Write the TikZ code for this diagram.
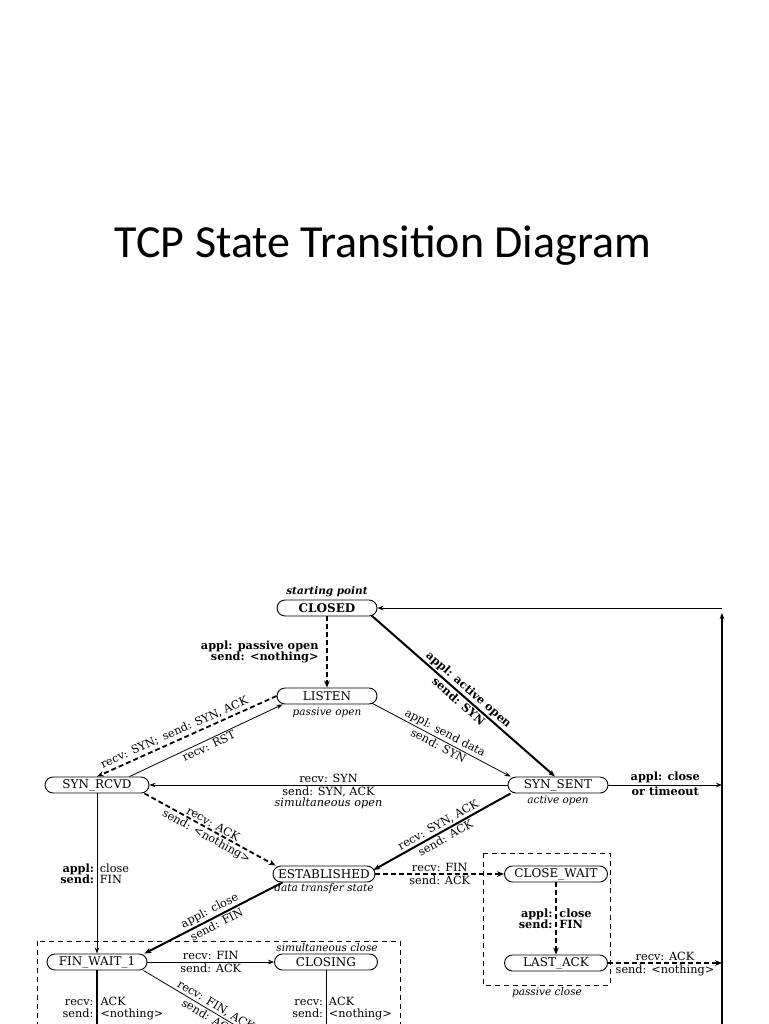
\documentclass[tikz,border=0pt]{standalone}
\usepackage{fontspec}
\setmainfont{DejaVu Serif}
\newfontfamily\titlefont{Carlito}
\usetikzlibrary{arrows.meta,calc}
\newcommand{\lblfont}{\fontsize{11.3}{11.3}\selectfont}
\begin{document}
\begin{tikzpicture}[x=1pt,y=-1pt,
  state/.style={draw, line width=0.9pt, fill=white, rounded corners=8pt, minimum width=100pt, minimum height=16pt, inner sep=1pt, font=\fontsize{12}{12}\selectfont},
  lbl/.style={font=\lblfont, inner sep=1.5pt},
  blbl/.style={font=\lblfont\bfseries, inner sep=1.5pt},
  ital/.style={font=\fontsize{10.5}{11}\selectfont\itshape, inner sep=0pt},
  tip/.style={-{Stealth[length=6pt,width=4.5pt]}},
  tline/.style={line width=0.8pt, tip},
  kline/.style={line width=2pt, -{Stealth[length=7pt,width=5.5pt]}},
  dline/.style={line width=1.8pt, dash pattern=on 5pt off 3pt, -{Stealth[length=7pt,width=5.5pt]}},
  boxd/.style={line width=0.9pt, dash pattern=on 5pt off 4pt}
]
\useasboundingbox (0,0) rectangle (768,1024);
\clip (0,0) rectangle (768,1024);
\fill[white] (0,0) rectangle (768,1024);

% title
\node[font=\titlefont\fontsize{46}{46}\selectfont, anchor=base, inner sep=0pt] (title) at (383,258) {TCP State Transition Diagram};

% dashed boxes
\draw[boxd] (37,941) rectangle (400,1050);
\draw[boxd] (483,853) rectangle (610,985);

% states
\node[state, font=\fontsize{12}{12}\selectfont\bfseries] (closed) at (327,608) {CLOSED};
\node[state] (listen) at (327,696) {LISTEN};
\node[state, minimum width=104pt] (synrcvd) at (97,785) {SYN\_RCVD};
\node[state] (synsent) at (558,785) {SYN\_SENT};
\node[state, minimum width=102pt] (established) at (324,874) {ESTABLISHED};
\node[state, minimum width=103pt] (closewait) at (556,874) {CLOSE\_WAIT};
\node[state, minimum width=103pt] (lastack) at (556,963) {LAST\_ACK};
\node[state] (finwait1) at (97,962) {FIN\_WAIT\_1};
\node[state, minimum width=103pt] (closing) at (326,962) {CLOSING};

% annotations
\node[ital, font=\fontsize{10.5}{11}\selectfont\itshape\bfseries] (startpt) at (327,592) {starting point};
\node[ital] (passopen) at (327,713) {passive open};
\node[ital] (actopen) at (558,801) {active open};
\node[ital] (dts) at (324,889) {data transfer state};
\node[ital] (passclose) at (547,993) {passive close};
\node[ital] (simclose) at (327,948) {simultaneous close};

% coordinates of free ends
\coordinate (rtop) at (722,608);
\coordinate (rbot) at (722,1050);
\coordinate (rss) at (722,785);
\coordinate (rla) at (722,963);
\coordinate (fwbot) at (97,1050);
\coordinate (clbot) at (326,1050);
\coordinate (fwdiag) at (290,1058);

% CLOSED -> LISTEN
\draw[dline] (closed) -- (listen)
  node[blbl, pos=0.5, left=6pt, align=right] {appl: passive open\\send: <nothing>};
% CLOSED -> SYN_SENT
\draw[kline] ($(closed.south east)+(-6,-1)$) -- ($(synsent.north)+(-3,0)$)
  node[blbl, sloped, pos=0.5, above] {appl: active open}
  node[blbl, sloped, pos=0.5, below] {send: SYN};
% LISTEN -> SYN_SENT
\draw[tline] ($(listen.south east)+(-5,-1)$) -- ($(synsent.north west)+(3,0)$)
  node[lbl, sloped, pos=0.5, above] {appl: send data}
  node[lbl, sloped, pos=0.5, below] {send: SYN};
% LISTEN -> SYN_RCVD
\draw[dline] (listen.west) -- (synrcvd.north)
  node[lbl, sloped, pos=0.55, above=1pt] {recv: SYN;\enspace send: SYN, ACK};
% SYN_RCVD -> LISTEN
\draw[tline] ($(synrcvd.north east)+(-20,0)$) -- ($(listen.south west)+(6,0)$)
  node[lbl, sloped, pos=0.5, below] {recv: RST};
% SYN_SENT -> SYN_RCVD
\draw[tline] (synsent.west) -- (synrcvd.east)
  node[lbl, pos=0.5, above] {recv: SYN}
  node[lbl, pos=0.5, below, align=center] {send: SYN, ACK\\\textit{simultaneous open}};
% SYN_RCVD -> ESTABLISHED
\draw[dline] ($(synrcvd.south east)+(-5,0)$) -- ($(established.north west)+(3,0)$)
  node[lbl, sloped, pos=0.5, above] {recv: ACK}
  node[lbl, sloped, pos=0.5, below] {send: <nothing>};
% SYN_SENT -> ESTABLISHED
\draw[kline] ($(synsent.south west)+(3,0)$) -- ($(established.east)+(-2,-4)$)
  node[lbl, sloped, pos=0.5, above] {recv: SYN, ACK}
  node[lbl, sloped, pos=0.5, below] {send: ACK};
% ESTABLISHED -> CLOSE_WAIT
\draw[dline] (established.east) -- (closewait.west)
  node[lbl, pos=0.5, above] {recv: FIN}
  node[lbl, pos=0.5, below] {send: ACK};
% CLOSE_WAIT -> LAST_ACK
\draw[dline] (closewait) -- (lastack)
  node[blbl, pos=0.5, left=1pt, align=right] {appl:\\send:}
  node[blbl, pos=0.5, right=1pt, align=left] {close\\FIN};
% LAST_ACK -> right line
\draw[dline] (lastack.east) -- (rla)
  node[lbl, pos=0.5, above] {recv: ACK}
  node[lbl, pos=0.5, below] {send: <nothing>};
% SYN_SENT -> right line
\draw[tline] (synsent.east) -- (rss)
  node[blbl, pos=0.5, above] {appl: close}
  node[blbl, pos=0.5, below] {or timeout};
% right line up to CLOSED
\draw[line width=1.3pt, tip] (rbot) -- ($(rtop)+(0,5)$);
\draw[tline] (rtop) -- (closed.east);
% SYN_RCVD -> FIN_WAIT_1
\draw[tline] (synrcvd.south) -- (finwait1.north)
  node[blbl, pos=0.5, left=1pt, align=right] {appl:\\send:}
  node[lbl, pos=0.5, right=1pt, align=left] {close\\FIN};
% ESTABLISHED -> FIN_WAIT_1
\draw[kline] ($(established.south west)+(10,0)$) -- ($(finwait1.north east)+(-3,0)$)
  node[lbl, sloped, pos=0.5, above] {appl: close}
  node[lbl, sloped, pos=0.5, below] {send: FIN};
% FIN_WAIT_1 -> CLOSING
\draw[tline] (finwait1.east) -- (closing.west)
  node[lbl, pos=0.5, above] {recv: FIN}
  node[lbl, pos=0.5, below] {send: ACK};
% FIN_WAIT_1 down
\draw[line width=2pt] (finwait1.south) -- (fwbot)
  node[lbl, pos=0.48, left=1pt, align=right] {recv:\\send:}
  node[lbl, pos=0.48, right=1pt, align=left] {ACK\\<nothing>};
% CLOSING down
\draw[line width=0.9pt] (closing.south) -- (clbot)
  node[lbl, pos=0.48, left=1pt, align=right] {recv:\\send:}
  node[lbl, pos=0.48, right=1pt, align=left] {ACK\\<nothing>};
% FIN_WAIT_1 diagonal
\draw[line width=0.8pt] ($(finwait1.south east)+(-4,0)$) -- (fwdiag)
  node[lbl, sloped, pos=0.47, above] {recv: FIN, ACK}
  node[lbl, sloped, pos=0.47, below] {send: ACK};
\end{tikzpicture}
\end{document}
